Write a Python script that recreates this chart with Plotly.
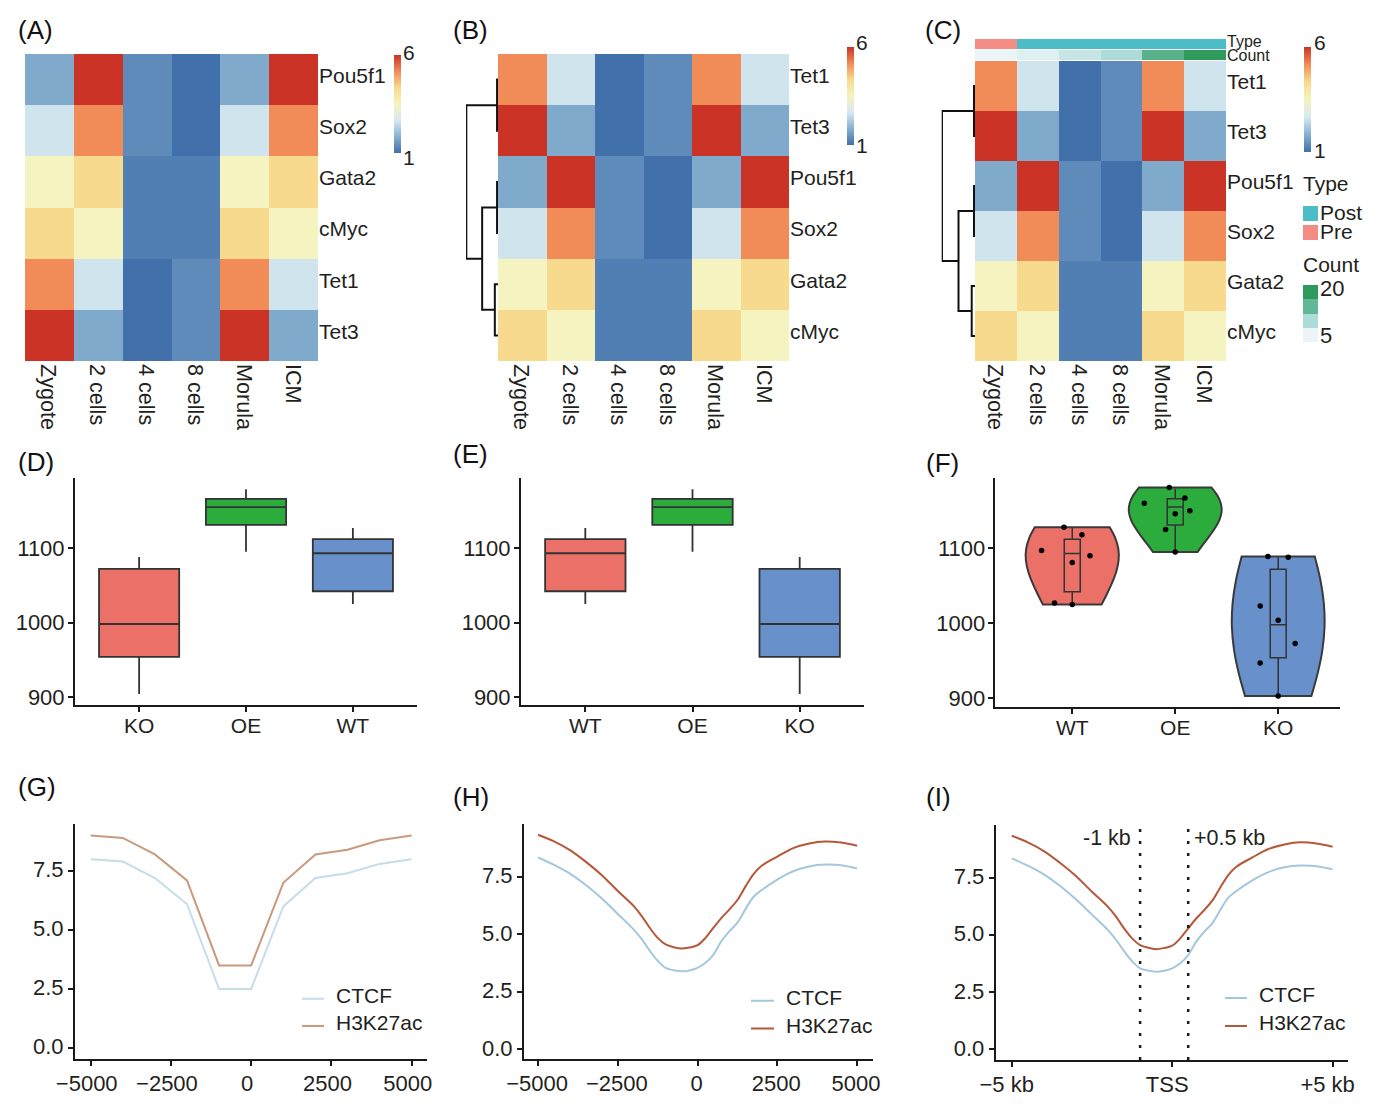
import plotly.graph_objects as go

W, H = 1375, 1105
FONT = "Liberation Sans"
INK = "#231F20"

# ---- heatmap data
stages = ["Zygote", "2 cells", "4 cells", "8 cells", "Morula", "ICM"]
pou5f1 = [1.75, 6.0, 1.35, 1.0, 1.75, 6.0]
sox2 = [2.6, 5.17, 1.35, 1.0, 2.6, 5.17]
gata2 = [3.5, 4.33, 1.2, 1.2, 3.5, 4.33]
cmyc = [4.33, 3.5, 1.2, 1.2, 4.33, 3.5]
tet1 = [5.17, 2.6, 1.0, 1.35, 5.17, 2.6]
tet3 = [6.0, 1.75, 1.0, 1.35, 6.0, 1.75]
genes_a = ["Pou5f1", "Sox2", "Gata2", "cMyc", "Tet1", "Tet3"]
rows_a = [pou5f1, sox2, gata2, cmyc, tet1, tet3]
genes_b = ["Tet1", "Tet3", "Pou5f1", "Sox2", "Gata2", "cMyc"]
rows_b = [tet1, tet3, pou5f1, sox2, gata2, cmyc]
type_flags = [0, 1, 1, 1, 1, 1]
type_names = ["Post", "Pre"]
type_levels = [1, 0]
counts = [5, 6, 8, 10, 16, 20]
count_levels = [20, 15, 10, 5]

# dendrogram merges, rows numbered from the top
merge_height = [0.3, 0.3, 1.0, 5.0, 10.0]
merge_top_row = [0, 2, 4, 2.5, 0.5]
merge_bottom_row = [1, 3, 5, 4.5, 3.5]
merge_top_height = [0, 0, 0, 0.3, 0.3]
merge_bottom_height = [0, 0, 0, 1.0, 5.0]

# ---- box / violin data
groups = ["KO", "OE", "WT"]
q1 = [954, 1131, 1042]
median = [998, 1155, 1093]
q3 = [1072, 1166, 1112]
low = [904, 1095, 1025]
high = [1088, 1179, 1127]

wt_vals = [1128, 1118, 1097, 1090, 1081, 1027, 1025]
wt_jit = [-0.08, 0.094, -0.298, 0.172, 0, -0.172, 0]
oe_vals = [1181, 1167, 1160, 1150, 1146, 1125, 1095]
oe_jit = [-0.058, 0.094, -0.30, 0.142, 0, -0.094, 0]
ko_vals = [1089, 1088, 1023, 1004, 973, 947, 903]
ko_jit = [-0.1, 0.097, -0.175, 0, 0.165, -0.175, 0]

# ---- line data
g_x = [-5000, -4000, -3000, -2000, -1000, 0, 1000, 2000, 3000, 4000, 5000]
g_ctcf = [8.0, 7.9, 7.2, 6.1, 2.5, 2.5, 6.0, 7.2, 7.4, 7.8, 8.0]
g_h3 = [9.0, 8.9, 8.2, 7.1, 3.5, 3.5, 7.0, 8.2, 8.4, 8.8, 9.0]

tss_x = [-5000, -4500, -4000, -3500, -3000, -2500, -2000, -1750, -1500, -1250, -1000, -750, -500, -250,
         0, 250, 500, 750, 1000, 1250, 1500, 1750, 2000, 2500, 3000, 3500, 4000, 4500, 5000]
tss_h3 = [9.33, 9.04, 8.66, 8.15, 7.57, 6.88, 6.22, 5.79, 5.28, 4.84, 4.55, 4.43, 4.37, 4.42,
          4.52, 4.84, 5.28, 5.71, 6.08, 6.49, 7.07, 7.61, 7.97, 8.38, 8.75, 8.95, 9.04, 8.99, 8.85]
tss_ctcf = [8.34, 8.02, 7.64, 7.14, 6.55, 5.88, 5.2, 4.78, 4.28, 3.84, 3.53, 3.43, 3.38, 3.42,
            3.53, 3.75, 4.11, 4.7, 5.13, 5.5, 6.08, 6.62, 6.91, 7.38, 7.74, 7.95, 8.03, 8.0, 7.86]
marks_i = [-1000, 500]
line_names = ["CTCF", "H3K27ac"]

heat_scale = [[0, "#4270AA"], [1/6, "#86B0CF"], [2/6, "#D6E9F1"], [3/6, "#F5F3BF"],
              [4/6, "#F7DA8E"], [5/6, "#F18B58"], [1, "#CB3327"]]
count_scale = [[0, "#EBF5F7"], [1/3, "#ADDBD8"], [2/3, "#62B797"], [1, "#2E9B5D"]]
type_scale = [[0, "#F28C84"], [1, "#4CBCC6"]]
position_cols = ["#EA7068", "#2BAC3C", "#6890CB"]

fig = go.Figure()
n_axes = 0


def px(x):
    return x / W


def py(y):
    return 1 - y / H


def axes(left, top, right, bottom, xopts, yopts):
    global n_axes
    n_axes += 1
    s = "" if n_axes == 1 else str(n_axes)
    fig.layout["xaxis" + s] = dict(domain=[px(left), px(right)], anchor="y" + s, **xopts)
    fig.layout["yaxis" + s] = dict(domain=[py(bottom), py(top)], anchor="x" + s, **yopts)
    return "x" + s, "y" + s


def note(text, x, y, anchor="center", size=21, color=INK):
    fig.add_annotation(text=text, x=px(x), y=py(y), xref="paper", yref="paper", xanchor=anchor, yanchor="middle",
                       showarrow=False, font=dict(family=FONT, size=size, color=color))


blank = dict(visible=False, showgrid=False, zeroline=False)
text21 = dict(family=FONT, size=21, color=INK)
text22 = dict(family=FONT, size=22, color=INK)


def add_heat(left, top, right, bottom, genes, rows, bar_x, bar_top, bar_bottom):
    xa, ya = axes(left, top, right, bottom,
                  dict(tickangle=90, ticks="", showline=False, showgrid=False,
                       tickfont=dict(family=FONT, size=21.6, color=INK), ticklabelshift=-1, ticklabelstandoff=2),
                  dict(side="right", autorange="reversed", ticks="", showline=False, showgrid=False,
                       tickfont=text21, ticklabelshift=4, ticklabelstandoff=0))
    fig.add_trace(go.Heatmap(
        z=rows, x=stages, y=genes, xaxis=xa, yaxis=ya, colorscale=heat_scale, zmin=1, zmax=6,
        colorbar=dict(x=px(bar_x), xanchor="left", xpad=0, ypad=0, thickness=7, thicknessmode="pixels",
                      y=py(bar_top), yanchor="top", len=bar_bottom - bar_top, lenmode="pixels",
                      tickvals=[1, 6], ticks="", showticklabels=False, outlinewidth=0)))


def add_dendro(left, top, right, bottom):
    xa, ya = axes(left, top, right, bottom,
                  dict(range=[10.1, 0], **blank), dict(range=[5.5, -0.5], **blank))
    xs, ys = [], []
    for h, r0, r1, h0, h1 in zip(merge_height, merge_top_row, merge_bottom_row,
                                 merge_top_height, merge_bottom_height):
        xs += [h0, h, h, h1, None]
        ys += [r0, r0, r1, r1, None]
    fig.add_trace(go.Scatter(x=xs, y=ys, xaxis=xa, yaxis=ya, mode="lines", showlegend=False,
                             cliponaxis=False, line=dict(color="#111111", width=2)))


def stat_axes(left, top, right, bottom, xopts, yopts, ticklen=5):
    common = dict(showline=True, linecolor="#1A1A1A", linewidth=2, ticks="outside", ticklen=ticklen,
                  tickwidth=1.5, tickcolor="#1A1A1A", showgrid=False, zeroline=False, tickfont=text22)
    return axes(left, top, right, bottom, {**common, **xopts}, {**common, **yopts})


def add_boxes(left, right, order, xrange_):
    xa, ya = stat_axes(left, 478, right, 705,
                       dict(type="category", categoryorder="array", categoryarray=order, range=xrange_,
                            ticklabelstandoff=-4, tickfont=text21),
                       dict(range=[889.3, 1194], tickvals=[900, 1000, 1100], ticklabelstandoff=-1))
    for i, g in enumerate(groups):
        # colours follow the position of the group on the axis
        fill = position_cols[order.index(g)]
        fig.add_trace(go.Box(x=[g], q1=[q1[i]], median=[median[i]], q3=[q3[i]], lowerfence=[low[i]],
                             upperfence=[high[i]], xaxis=xa, yaxis=ya, width=0.75, whiskerwidth=0,
                             fillcolor=fill, line=dict(color="#333333", width=1.8),
                             showlegend=False, boxpoints=False))


def add_lines(left, right, top, bottom, xrange_, yrange_, xvals, ctcf, h3, col_c, col_h, xopts, yvals, xshift, yshift):
    xa, ya = stat_axes(left, top, right, bottom,
                       dict(range=xrange_, ticklabelshift=xshift, ticklabelstandoff=-1, **xopts),
                       dict(range=yrange_, tickvals=yvals, ticktext=["0.0", "2.5", "5.0", "7.5"],
                            ticklabelshift=yshift))
    shape = "linear" if len(xvals) < 15 else "spline"
    fig.add_trace(go.Scatter(x=xvals, y=ctcf, xaxis=xa, yaxis=ya, mode="lines", name="CTCF", showlegend=False,
                             line=dict(color=col_c, width=2, shape=shape)))
    fig.add_trace(go.Scatter(x=xvals, y=h3, xaxis=xa, yaxis=ya, mode="lines", name="H3K27ac", showlegend=False,
                             line=dict(color=col_h, width=2, shape=shape)))
    return xa, ya


def add_line_key(left, right, y_first, y_second, colours):
    half = (y_second - y_first) / 2
    xa, ya = axes(left, y_first - half, right, y_second + half,
                  dict(range=[0, 1], visible=False),
                  dict(side="right", type="category", categoryorder="array", categoryarray=line_names,
                       range=[1.5, -0.5], ticks="", showgrid=False, showline=False, tickfont=text21,
                       ticklabelstandoff=11, ticklabelshift=3))
    for name, colour in zip(line_names, colours):
        fig.add_trace(go.Scatter(x=[0, 1], y=[name, name], xaxis=xa, yaxis=ya, mode="lines", showlegend=False,
                                 name=name, line=dict(color=colour, width=2)))


# ---- top row
add_heat(25, 54, 318, 361, genes_a, rows_a, 394, 55, 153)
note("6", 409, 52)
note("1", 409, 158)

add_dendro(466, 54, 498, 361)
add_heat(498, 54, 789, 361, genes_b, rows_b, 847, 47, 145)
note("6", 862, 43)
note("1", 862, 146)

add_dendro(941.7, 61, 975, 361)
add_heat(975, 61, 1226, 361, genes_b, rows_b, 1304, 47, 152)
note("6", 1320, 43)
note("1", 1320, 151)

xa, ya = axes(975, 39, 1226, 49, dict(visible=False),
              dict(side="right", ticks="", showgrid=False, tickfont=dict(family=FONT, size=16, color=INK),
                   ticklabelshift=-3, ticklabelstandoff=0))
fig.add_trace(go.Heatmap(z=[type_flags], x=stages, y=["Type"], xaxis=xa, yaxis=ya,
                         colorscale=type_scale, zmin=0, zmax=1, showscale=False))
xa, ya = axes(975, 50, 1226, 60, dict(visible=False),
              dict(side="right", ticks="", showgrid=False, tickfont=dict(family=FONT, size=16, color=INK),
                   ticklabelstandoff=0))
fig.add_trace(go.Heatmap(z=[counts], x=stages, y=["Count"], xaxis=xa, yaxis=ya,
                         colorscale=count_scale, zmin=5, zmax=20, showscale=False))

# Type and Count keys
xa, ya = axes(1303, 204, 1318, 242, dict(visible=False),
              dict(side="right", autorange="reversed", ticks="", showgrid=False, tickfont=text21,
                   tickmode="array", tickvals=type_names, ticktext=type_names, ticklabelshift=1,
                   ticklabelstandoff=1))
fig.add_trace(go.Heatmap(z=[[v] for v in type_levels], y=type_names, xaxis=xa, yaxis=ya, ygap=4,
                         colorscale=type_scale, zmin=0, zmax=1, showscale=False))
xa, ya = axes(1303, 285, 1318, 342, dict(visible=False),
              dict(side="right", autorange="reversed", ticks="", showgrid=False, tickfont=text22,
                   tickmode="array", tickvals=[-0.28, 3], ticktext=["20", "5"], ticklabelstandoff=1))
fig.add_trace(go.Heatmap(z=[[v] for v in count_levels], xaxis=xa, yaxis=ya,
                         colorscale=count_scale, zmin=5, zmax=20, showscale=False))

# ---- middle row
add_boxes(75, 417, ["KO", "OE", "WT"], [-0.6, 2.6])
add_boxes(521, 864, ["WT", "OE", "KO"], [-0.6, 2.6])

xa, ya = stat_axes(994.7, 478, 1340, 706.7,
                   dict(range=[-0.753, 2.6], tickvals=[0, 1, 2], ticktext=["WT", "OE", "KO"],
                        ticklabelstandoff=-4, tickfont=text21),
                   dict(range=[888.8, 1193.7], tickvals=[900, 1000, 1100], ticklabelstandoff=-2))
violins = [(0, wt_vals, wt_jit, "#EA7068", 2, 45), (1, oe_vals, oe_jit, "#2BAC3C", 1, 35),
           (2, ko_vals, ko_jit, "#6890CB", 0, 100)]
for pos, vals, jit, fill, i, bw in violins:
    fig.add_trace(go.Violin(x=[pos] * len(vals), y=vals, xaxis=xa, yaxis=ya, width=0.9, scalemode="width",
                            spanmode="hard", bandwidth=bw, points=False, fillcolor=fill,
                            line=dict(color="#3A3A3A", width=2), showlegend=False))
    fig.add_trace(go.Box(x=[pos], q1=[q1[i]], median=[median[i]], q3=[q3[i]], lowerfence=[low[i]],
                         upperfence=[high[i]], xaxis=xa, yaxis=ya, width=0.155, whiskerwidth=0,
                         fillcolor="rgba(0,0,0,0)", line=dict(color="#333333", width=1.5),
                         showlegend=False, boxpoints=False))
    fig.add_trace(go.Scatter(x=[pos + j for j in jit], y=vals, xaxis=xa, yaxis=ya, mode="markers",
                             marker=dict(color="black", size=5.5), showlegend=False))

# ---- bottom row
y_ticks = [0, 2.5, 5, 7.5]
x_ticks = dict(tickvals=[-5000, -2500, 0, 2500, 5000])
add_lines(75, 427, 824, 1059, [-5489, 5477], [-0.466, 9.49], g_x, g_ctcf, g_h3,
          "#C5DDEB", "#C99A7E", x_ticks, y_ticks, -4, -2)
add_line_key(302, 324, 998.7, 1026, ["#C5DDEB", "#C99A7E"])

add_lines(524, 873, 824, 1059, [-5440, 5500], [-0.44, 9.8], tss_x, tss_ctcf, tss_h3,
          "#A3C7DD", "#B5583A", x_ticks, y_ticks, -1, -1)
add_line_key(751, 774, 1000.7, 1028.5, ["#A3C7DD", "#B5583A"])

xa, ya = add_lines(995.7, 1348, 825, 1060, [-5500, 5480], [-0.48, 9.8], tss_x, tss_ctcf, tss_h3,
                   "#A3C7DD", "#B5583A",
                   dict(tickvals=[-5000, 0, 5000], ticktext=["−5 kb", "TSS", "+5 kb"]), y_ticks, -5, -1)
add_line_key(1224.7, 1247, 998, 1026, ["#A3C7DD", "#B5583A"])
for mark in marks_i:
    fig.add_shape(type="line", x0=mark, x1=mark, xref=xa, y0=0, y1=1, yref=ya + " domain",
                  line=dict(color="#1A1A1A", width=2.5, dash="3px,9px"))

panel_labels = ["(A)", "(B)", "(C)", "(D)", "(E)", "(F)", "(G)", "(H)", "(I)"]
label_x = [16, 451, 923, 16, 451, 924, 16, 451, 924]
label_y = [30, 30, 30, 462, 454, 463, 787, 797, 797]
for t, lx, ly in zip(panel_labels, label_x, label_y):
    note(t, lx, ly, "left", 26, "#111111")

note("Type", 1301, 184, "left")
note("Count", 1301, 264, "left")
note("-1 kb", 1133, 838, "right", 21.5)
note("+0.5 kb", 1192, 838, "left", 21.5)

fig.update_layout(width=W, height=H, margin=dict(l=0, r=0, t=0, b=0, autoexpand=False), paper_bgcolor="white",
                  plot_bgcolor="white", font=dict(family=FONT, color=INK), showlegend=False)

fig.write_html("out.html", config={"displayModeBar": False}, post_script="document.body.style.margin='0';")
